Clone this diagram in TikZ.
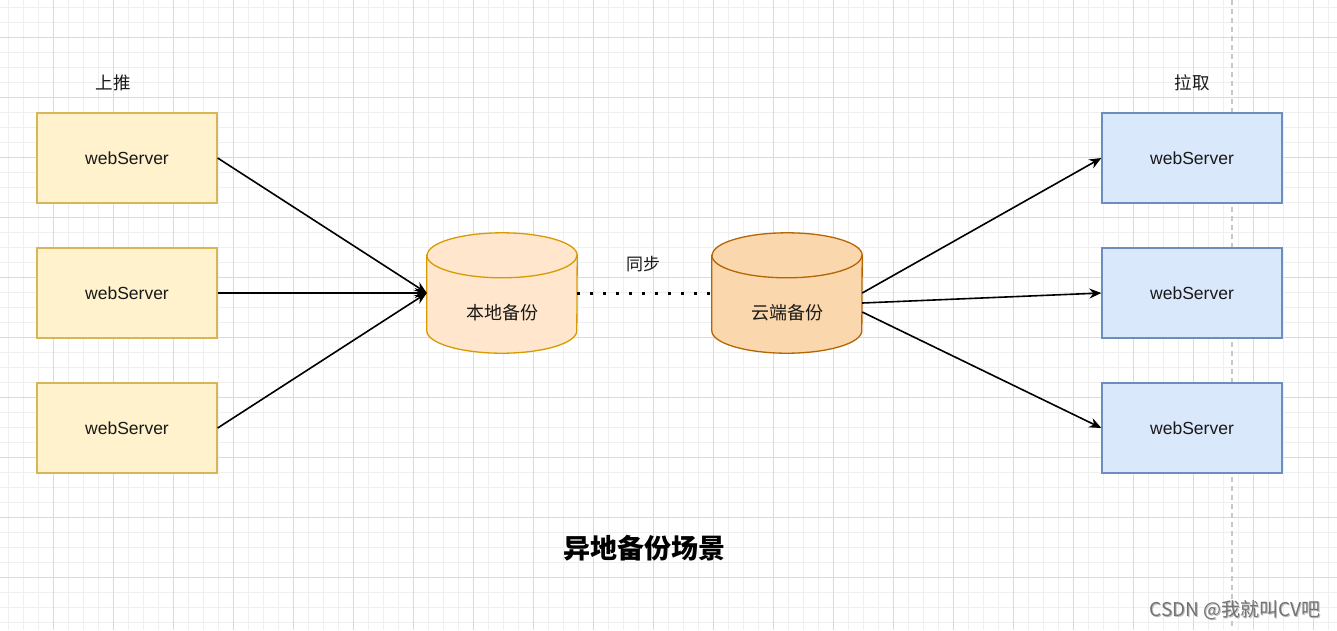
\documentclass[tikz,border=0pt]{standalone}
\usepackage{fontspec}
\setmainfont{Liberation Sans}
\newfontfamily\cjk{Noto Sans CJK SC}
\usetikzlibrary{arrows.meta,calc}
\definecolor{yfill}{HTML}{FFF2CC}
\definecolor{ystroke}{HTML}{D6B656}
\definecolor{bfill}{HTML}{DAE8FC}
\definecolor{bstroke}{HTML}{6C8EBF}
\definecolor{c1fill}{HTML}{FFE6CC}
\definecolor{c1stroke}{HTML}{D79B00}
\definecolor{c2fill}{HTML}{FAD7AC}
\definecolor{c2stroke}{HTML}{B46504}
\definecolor{gridminor}{HTML}{EFEFEF}
\definecolor{gridmajor}{HTML}{DADADA}
\definecolor{guide}{HTML}{C8C8C8}
\newcommand\drawcyl[3]{%
  \path[fill=#2,draw=#3,line width=1.3pt]
    ($(#1.north west)+(0,22.5)$) -- ($(#1.south west)+(0,-22.5)$)
    arc[start angle=180,end angle=360,x radius=75pt,y radius=22.5pt]
    -- ($(#1.north east)+(0,22.5)$)
    arc[start angle=0,end angle=180,x radius=75pt,y radius=22.5pt] -- cycle;
  \path[draw=#3,line width=1.3pt]
    ($(#1.north west)+(0,22.5)$)
    arc[start angle=180,end angle=360,x radius=75pt,y radius=22.5pt];
}
\tikzset{
  wsbox/.style={rectangle,minimum width=180pt,minimum height=90pt,inner sep=0pt,line width=1.3pt,
    font=\fontsize{17.5}{20}\selectfont,text=black!90},
  wsleft/.style={wsbox,fill=yfill,draw=ystroke},
  wsright/.style={wsbox,fill=bfill,draw=bstroke},
  cylbox/.style={rectangle,minimum width=150pt,minimum height=120pt,inner sep=0pt},
  lbl/.style={font=\cjk\fontsize{17.5}{20}\selectfont,text=black!90,inner sep=0pt},
  arr/.style={-{Stealth[length=12pt,width=10pt]},line width=1.6pt,black},
}
\begin{document}
\begin{tikzpicture}[x=1pt,y=-1pt]
\useasboundingbox (0,0) rectangle (1337,630);
\fill[white] (0,0) rectangle (1337,630);
% grid
\foreach \i in {0,...,88}{\draw[gridminor,line width=1pt] (8+15*\i,0) -- (8+15*\i,630);}
\foreach \i in {0,...,41}{\draw[gridminor,line width=1pt] (0,7+15*\i) -- (1337,7+15*\i);}
\foreach \i in {0,...,21}{\draw[gridmajor,line width=1pt] (53+60*\i,0) -- (53+60*\i,630);}
\foreach \i in {0,...,9}{\draw[gridmajor,line width=1pt] (0,37+60*\i) -- (1337,37+60*\i);}
\coordinate (gtop) at (1232,0);
\coordinate (gbot) at (1232,630);
\draw[guide,line width=1.5pt,dash pattern=on 5pt off 4pt] (gtop) -- (gbot);
% boxes
\node[wsleft] (l1) at (127,158) {webServer};
\node[wsleft] (l2) at (127,293) {webServer};
\node[wsleft] (l3) at (127,428) {webServer};
\node[wsright] (r1) at (1192,158) {webServer};
\node[wsright] (r2) at (1192,293) {webServer};
\node[wsright] (r3) at (1192,428) {webServer};
% cylinders
\node[cylbox] (loc) at (502,293) {};
\node[cylbox] (cld) at (787,293) {};
\drawcyl{loc}{c1fill}{c1stroke}
\drawcyl{cld}{c2fill}{c2stroke}
\node[lbl,font=\cjk\fontsize{18}{20}\selectfont] (loct) at (502,313) {本地备份};
\node[lbl,font=\cjk\fontsize{18}{20}\selectfont] (cldt) at (787,313) {云端备份};
% labels
\node[lbl] (push) at (113,83) {上推};
\node[lbl] (pull) at (1192,83) {拉取};
\node[lbl,font=\cjk\fontsize{17}{20}\selectfont] (sync) at (643,264) {同步};
\node[lbl,font=\cjk\bfseries\fontsize{27}{30}\selectfont,text=black] (title) at (644,548) {异地备份场景};
\node[inner sep=0pt,font=\cjk\fontsize{19}{22}\selectfont,text=black!25] at (1236,611) {CSDN @我就叫CV吧};
\node[inner sep=0pt,font=\cjk\fontsize{19}{22}\selectfont,text=black!55] (wm) at (1235,610) {CSDN @我就叫CV吧};
% connectors
\draw[arr] (l1.east) -- (loc.west);
\draw[arr] (l2.east) -- (loc.west);
\draw[arr] (l3.east) -- (loc.west);
\draw[line width=3pt,black,dash pattern=on 3pt off 10pt] (loc.east) -- (cld.west);
\draw[arr] (cld.east) -- (r1.west);
\draw[arr] ($(cld.east)+(0,10)$) -- (r2.west);
\draw[arr] ($(cld.east)+(0,19)$) -- (r3.west);
\end{tikzpicture}
\end{document}
